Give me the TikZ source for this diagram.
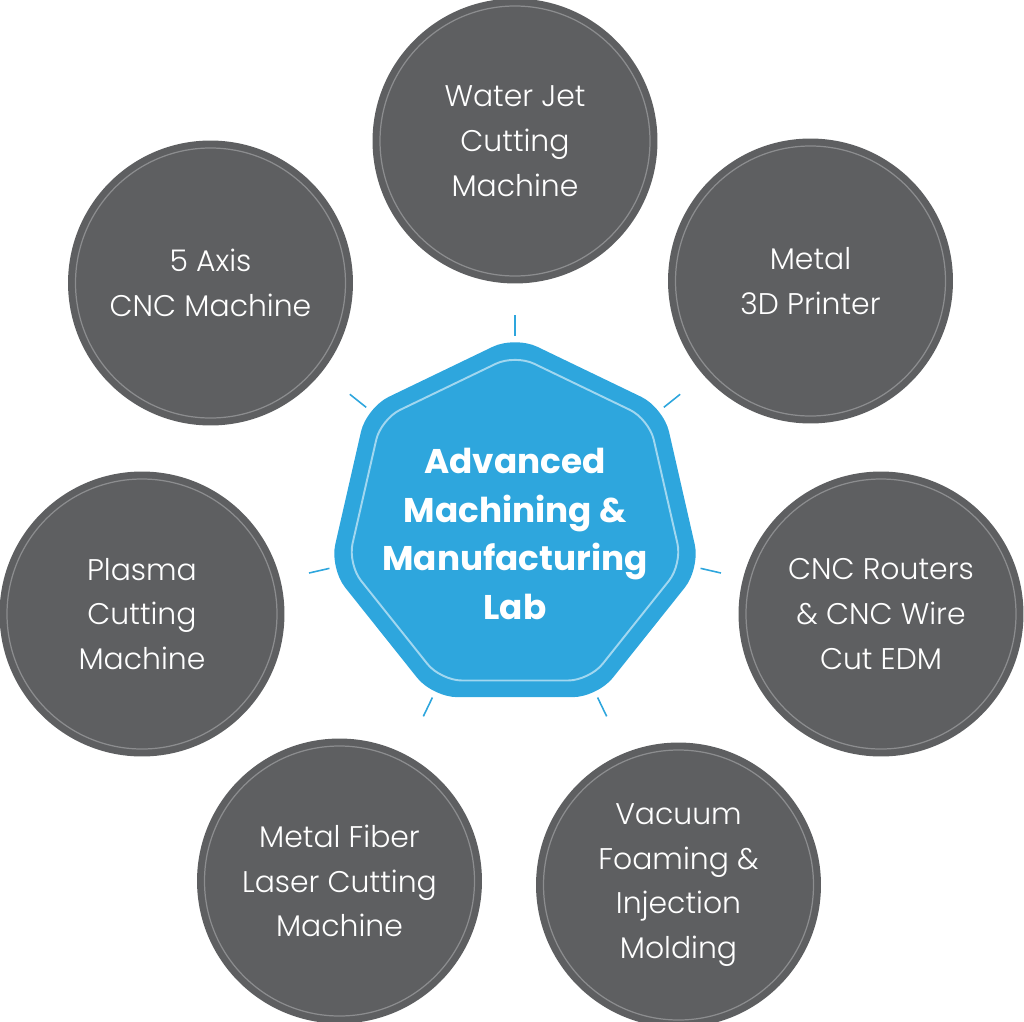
\documentclass[tikz,border=0pt]{standalone}
\usepackage{fontspec}
\setmainfont{Poppins}
\newfontfamily\poplight{Poppins Light}
\usetikzlibrary{shapes.geometric,calc}
\definecolor{machgray}{HTML}{5E5F61}
\definecolor{ringgray}{HTML}{8C8D8F}
\definecolor{labblue}{HTML}{2EA6DD}

\begin{document}
\begin{tikzpicture}[x=0.02cm,y=-0.02cm,
    machine/.style={circle,fill=machgray,minimum size=5.7cm,inner sep=0pt,align=center,
      text=white,font=\poplight\fontsize{17}{25.5}\selectfont},
    ring/.style={draw=ringgray,line width=0.7pt},
    hub/.style={regular polygon,regular polygon sides=7,inner sep=0pt,rounded corners=14pt},
    hubtick/.style={draw=labblue,line width=0.9pt}]
	\useasboundingbox (0,0) rectangle (1024,1021);
	\node[machine] (wj) at (515,141) {Water Jet\\Cutting\\Machine};
	\node[machine] (mp) at (810.5,281) {Metal\\3D Printer};
	\node[machine] (cr) at (881,614) {CNC Routers\\\& CNC Wire\\Cut EDM};
	\node[machine] (vf) at (678.5,885) {Vacuum\\Foaming \&\\Injection\\Molding};
	\node[machine] (mf) at (339.5,881) {Metal Fiber\\Laser Cutting\\Machine};
	\node[machine] (pc) at (142,614) {Plasma\\Cutting\\Machine};
	\node[machine] (ax) at (210.5,283) {5 Axis\\CNC Machine};
	\foreach \m in {wj,mp,cr,vf,mf,pc,ax}
		\draw[ring] (\m) circle (135);
	% the lab in the middle
	\node[hub,fill=labblue,minimum size=7.6cm] (lab) at (515,526) {};
	\node[hub,draw=white!55!labblue,line width=1.1pt,minimum size=6.86cm,rounded corners=12pt] (labrim) at (lab) {};
	\foreach \i in {1,...,7}
		\draw[hubtick] (lab.corner \i) -- ($(lab.center)!1.11!(lab.corner \i)$);
	\node[align=center,text=white,font=\bfseries\fontsize{19.5}{27.8}\selectfont] (labtext) at (515,534)
		{Advanced\\Machining \&\\Manufacturing\\Lab};
\end{tikzpicture}
\end{document}
